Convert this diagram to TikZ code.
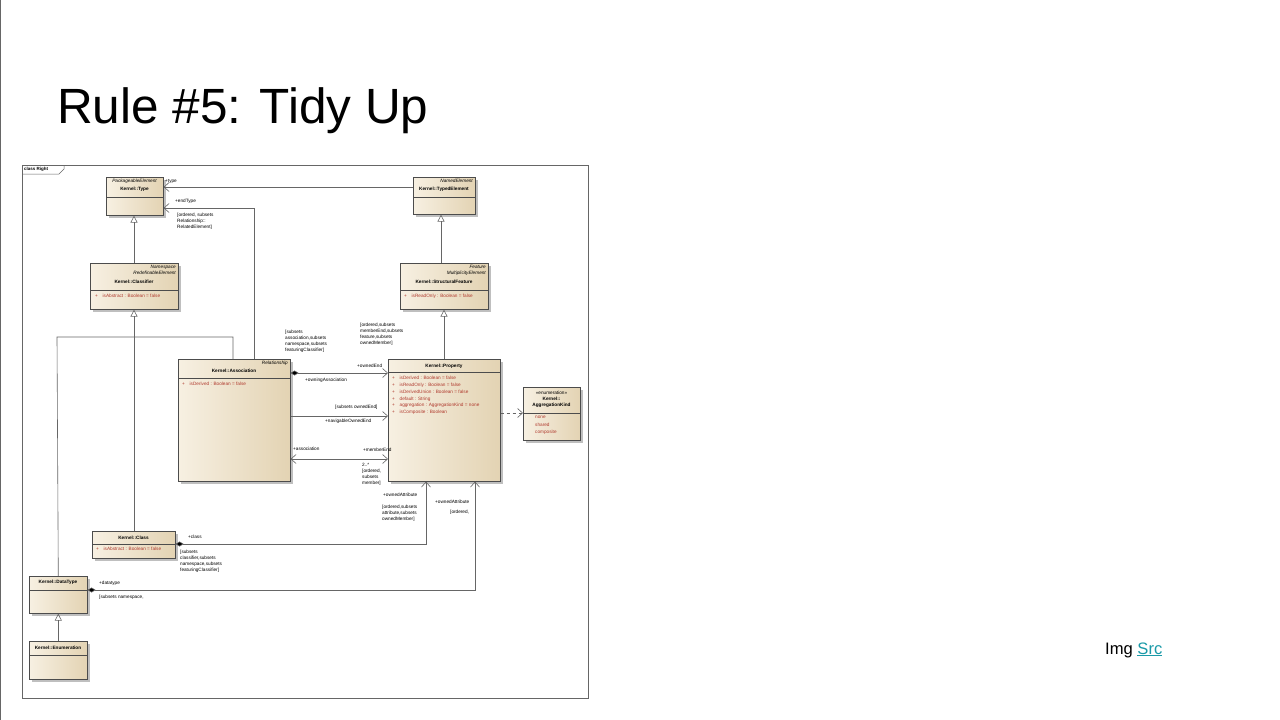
\documentclass[tikz,border=0pt]{standalone}
\usepackage{fontspec}
\setmainfont{Liberation Sans}
\usetikzlibrary{arrows.meta,shapes.geometric,calc}
\definecolor{beigeA}{HTML}{F7F0E2}
\definecolor{beigeB}{HTML}{E3D3B3}
\definecolor{attr}{HTML}{B03A2E}
\definecolor{lnk}{HTML}{1A9AA8}
\tikzset{
  cbox/.style={draw=black!70,line width=0.6pt,left color=beigeA,right color=beigeB,minimum width=#1,anchor=north west,inner sep=0pt},
  tx/.style={font=\fontsize{4.7}{5.9}\selectfont,inner sep=0pt,align=left,anchor=north west},
  hd/.style={font=\fontsize{4.7}{5.9}\selectfont\bfseries,inner sep=0pt,anchor=north},
  attrtx/.style={font=\fontsize{4.7}{6.8}\selectfont,text=attr,inner sep=0pt,align=left,anchor=north west},
  ln/.style={draw=black!60,line width=0.6pt},
  gen/.style={ln,-{Triangle[open,length=7pt,width=7pt]}},
  nav/.style={ln,-{Straight Barb[length=5pt,width=9pt]}},
  comp/.style={ln,{Diamond[length=8pt,width=5pt,fill=black]}-{Straight Barb[length=5pt,width=9pt]}},
}
\newcommand\umlbox[6]{% name x y w h divider-offset
  \fill[black!25] (#2+2.5,#3+2.5) rectangle ++(#4,#5);
  \node[cbox=#4pt,minimum height=#5pt] (#1) at (#2,#3) {};
  \draw[black!70,line width=0.6pt] (#2,#3+#6) -- ++(#4,0);
}
\begin{document}
\begin{tikzpicture}[x=1pt,y=-1pt]
\useasboundingbox (0,0) rectangle (1280,720);
\fill[white] (0,0) rectangle (1280,720);
\draw[black!60,line width=0.8pt] (0.5,0) -- (0.5,720);
\node[font=\fontsize{49.5}{56}\selectfont,anchor=base west,inner sep=0pt] (title) at (57,123) {Rule \#5: Tidy Up};
\node[font=\fontsize{16.6}{19}\selectfont,anchor=base west,inner sep=0pt] (img) at (1105,654) {Img \textcolor{lnk}{\underline{Src}}};
% frame
\draw[black!60,line width=0.7pt] (22,165) rectangle (588,698);
\draw[black!60,line width=0.5pt] (22,174) -- (59,174) -- (64,169) -- (64,165);
\node[tx,font=\fontsize{4.5}{5.2}\selectfont\bfseries] (frl) at (24,167) {class Right};
% boxes
\umlbox{type}{106}{177}{57}{38}{20}
\node[tx,font=\fontsize{4.7}{5.9}\selectfont\itshape,anchor=north] (t1) at (134.5,179) {PackageableElement};
\node[hd] (t2) at (134.5,186.5) {Kernel::Type};
\umlbox{typed}{413}{177}{62}{37}{20}
\node[tx,font=\fontsize{4.7}{5.9}\selectfont\itshape,anchor=north east] (te1) at (473,179) {NamedElement};
\node[hd] (te2) at (444,186.5) {Kernel::TypedElement};
\umlbox{clsf}{90}{263}{88}{46}{27}
\node[tx,font=\fontsize{4.7}{5.9}\selectfont\itshape,anchor=north east,align=right] (c1) at (176,265) {Namespace\\RedefinableElement};
\node[hd] (c2) at (134,280) {Kernel::Classifier};
\node[attrtx] (c3) at (95,294) {+\quad isAbstract : Boolean = false};
\umlbox{sf}{400}{263}{88}{46}{27}
\node[tx,font=\fontsize{4.7}{5.9}\selectfont\itshape,anchor=north east,align=right] (s1) at (486,265) {Feature\\MultiplicityElement};
\node[hd] (s2) at (444,280) {Kernel::StructuralFeature};
\node[attrtx] (s3) at (404,294) {+\quad isReadOnly : Boolean = false};
\umlbox{assoc}{178}{359}{112}{122}{19}
\node[tx,font=\fontsize{4.7}{5.9}\selectfont\itshape,anchor=north east] (a1) at (288,361) {Relationship};
\node[hd] (a2) at (234,369) {Kernel::Association};
\node[attrtx] (a3) at (182,382) {+\quad isDerived : Boolean = false};
\umlbox{prop}{388}{359}{112}{122}{13}
\node[hd] (p1) at (444,364) {Kernel::Property};
\node[attrtx] (p2) at (392,376) {+\quad isDerived : Boolean = false\\+\quad isReadOnly : Boolean = false\\+\quad isDerivedUnion : Boolean = false\\+\quad default : String\\+\quad aggregation : AggregationKind = none\\+\quad isComposite : Boolean};
\umlbox{agg}{523}{387}{57}{53}{26}
\node[tx,anchor=north,align=center] (g1) at (551.5,391) {«enumeration»\\\textbf{Kernel::}\\\textbf{AggregationKind}};
\node[attrtx,font=\fontsize{4.7}{7.4}\selectfont] (g2) at (535,416) {none\\shared\\composite};
\umlbox{cls}{92}{531}{83}{27}{13}
\node[hd] (k1) at (133.5,536) {Kernel::Class};
\node[attrtx] (k2) at (96,547) {+\quad isAbstract : Boolean = false};
\umlbox{dt}{29}{576}{58}{37}{14}
\node[hd] (d1) at (58,580) {Kernel::DataType};
\umlbox{enm}{29}{641}{58}{38}{14}
\node[hd] (e1) at (58,646) {Kernel::Enumeration};
% generalizations
\draw[gen] (clsf.north -| 134,0) -- (type.south -| 134,0);
\draw[gen] (sf.north -| 441,0) -- (typed.south -| 441,0);
\draw[gen] (prop.north -| 444,0) -- (sf.south -| 444,0);
\draw[gen] (cls.north -| 134,0) -- (clsf.south -| 134,0);
\draw[gen] (enm.north) -- (dt.north |- dt.south);
\draw[ln] (dt.north) -- (57,337) -- (233,337) -- (assoc.north -| 233,0);
% associations
\draw[nav] (typed.west |- 0,187) -- (type.east |- 0,187);
\node[tx] (l1) at (165,179) {+type};
\draw[nav] (assoc.north -| 254,0) -- (254,208) -- (type.east |- 0,208);
\node[tx] (l2) at (175,199) {+endType};
\node[tx] (l3) at (177,213) {[ordered, subsets\\Relationship::\\RelatedElement]};
\draw[comp] (assoc.east |- 0,373) -- (prop.west |- 0,373);
\node[tx] (l4) at (357,364) {+ownedEnd};
\node[tx] (l5) at (305,378) {+owningAssociation};
\node[tx] (l6) at (285,330) {[subsets\\association,subsets\\namespace,subsets\\featuringClassifier]};
\node[tx] (l7) at (360,323) {[ordered,subsets\\memberEnd,subsets\\feature,subsets\\ownedMember]};
\draw[nav] (assoc.east |- 0,416) -- (prop.west |- 0,416);
\node[tx] (l8) at (335,405) {[subsets ownedEnd]};
\node[tx] (l9) at (325,419) {+navigableOwnedEnd};
\draw[ln,{Straight Barb[length=5pt,width=9pt]}-{Straight Barb[length=5pt,width=9pt]}] (assoc.east |- 0,459) -- (prop.west |- 0,459);
\node[tx] (l10) at (293,447) {+association};
\node[tx] (l11) at (363,448) {+memberEnd};
\node[tx] (l12) at (362,463) {2..*\\{}[ordered,\\subsets\\member]};
\draw[ln,dashed,-{Straight Barb[length=5pt,width=9pt]}] (prop.east |- 0,413) -- (agg.west |- 0,413);
\draw[comp] (cls.east |- 0,544) -- (426,544) -- (prop.south -| 426,0);
\node[tx] (l13) at (188,535) {+class};
\node[tx] (l14) at (180,550) {[subsets\\classifier,subsets\\namespace,subsets\\featuringClassifier]};
\node[tx] (l15) at (383,493) {+ownedAttribute};
\node[tx] (l16) at (382,505) {[ordered,subsets\\attribute,subsets\\ownedMember]};
\draw[comp] (dt.east |- 0,590) -- (475,590) -- (prop.south -| 475,0);
\node[tx] (l17) at (99,581) {+datatype};
\node[tx] (l18) at (99,595) {[subsets namespace,};
\node[tx] (l19) at (435,500) {+ownedAttribute};
\node[tx] (l20) at (450,510) {[ordered,};
\end{tikzpicture}
\end{document}
